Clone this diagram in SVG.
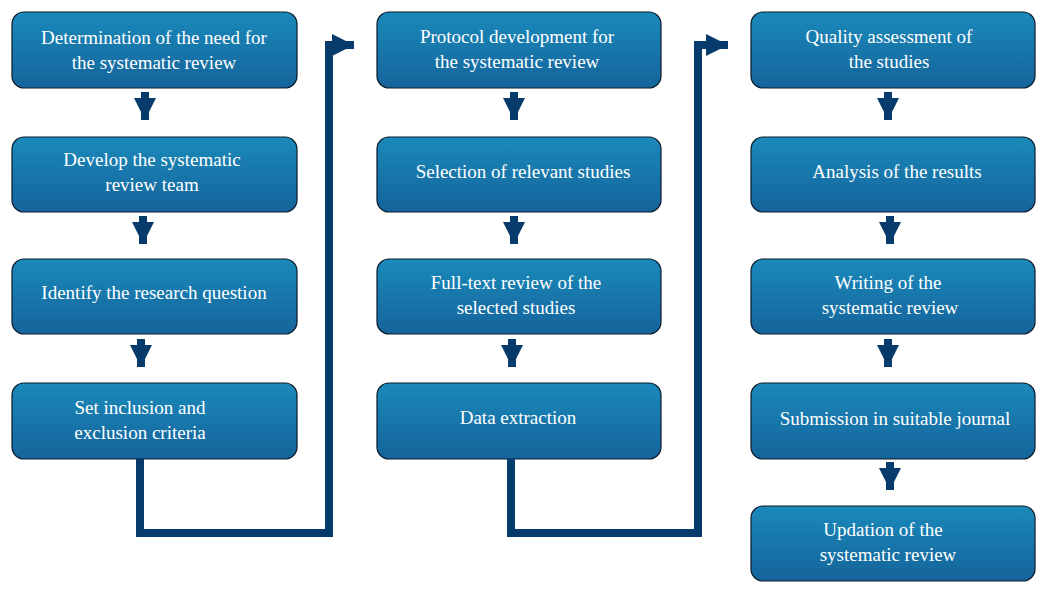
<svg xmlns="http://www.w3.org/2000/svg" width="1050" height="604" viewBox="0 0 1050 604">
<defs>
<linearGradient id="g" x1="0" y1="0" x2="0" y2="1"><stop offset="0" stop-color="#1a89ba"/><stop offset="1" stop-color="#15649b"/></linearGradient>
<marker id="ah" viewBox="0 0 10 10" refX="10" refY="5" markerWidth="2.8" markerHeight="2.8" orient="auto" markerUnits="strokeWidth"><path d="M0,0L10,5L0,10z" fill="#073b6b"/></marker>
</defs>
<style>
rect{fill:url(#g);stroke:#0a1a2a;stroke-width:1.2}
text{font-family:"Liberation Serif",serif;font-size:19px;fill:#fff;text-anchor:middle}
.c path{fill:none;stroke:#073b6b;stroke-width:8}
</style>
<g id="n1"><rect x="12" y="12" width="285" height="76" rx="12"/><text x="154" y="44">Determination of the need for</text><text x="154" y="69">the systematic review</text></g>
<g id="n2"><rect x="12" y="137" width="285" height="75" rx="12"/><text x="152" y="166">Develop the systematic</text><text x="152" y="191">review team</text></g>
<g id="n3"><rect x="12" y="259" width="285" height="75" rx="12"/><text x="154" y="299">Identify the research question</text></g>
<g id="n4"><rect x="12" y="383" width="285" height="76" rx="12"/><text x="140" y="414">Set inclusion and</text><text x="140" y="439">exclusion criteria</text></g>
<g id="n5"><rect x="377" y="12" width="284" height="76" rx="12"/><text x="517" y="43">Protocol development for</text><text x="517" y="68">the systematic review</text></g>
<g id="n6"><rect x="377" y="137" width="284" height="75" rx="12"/><text x="523" y="178">Selection of relevant studies</text></g>
<g id="n7"><rect x="377" y="259" width="284" height="75" rx="12"/><text x="516" y="289">Full-text review of the</text><text x="516" y="314">selected studies</text></g>
<g id="n8"><rect x="377" y="383" width="284" height="76" rx="12"/><text x="518" y="424">Data extraction</text></g>
<g id="n9"><rect x="751" y="12" width="284" height="76" rx="12"/><text x="889" y="43">Quality assessment of</text><text x="889" y="68">the studies</text></g>
<g id="n10"><rect x="751" y="137" width="284" height="75" rx="12"/><text x="897" y="178">Analysis of the results</text></g>
<g id="n11"><rect x="751" y="259" width="284" height="75" rx="12"/><text x="888" y="289">Writing of the</text><text x="890" y="314">systematic review</text></g>
<g id="n12"><rect x="751" y="383" width="284" height="76" rx="12"/><text x="895" y="425">Submission in suitable journal</text></g>
<g id="n13"><rect x="751" y="506" width="284" height="75" rx="12"/><text x="883" y="536">Updation of the</text><text x="888" y="561">systematic review</text></g>
<g class="c" id="connectors">
<path d="M145,92V120" marker-end="url(#ah)"/>
<path d="M143,216V244" marker-end="url(#ah)"/>
<path d="M141,339V367" marker-end="url(#ah)"/>
<path d="M514,92V120" marker-end="url(#ah)"/>
<path d="M514,216V244" marker-end="url(#ah)"/>
<path d="M512,339V367" marker-end="url(#ah)"/>
<path d="M888,92V120" marker-end="url(#ah)"/>
<path d="M890,216V244" marker-end="url(#ah)"/>
<path d="M888,339V367" marker-end="url(#ah)"/>
<path d="M890,462V490" marker-end="url(#ah)"/>
<path d="M140,459V533H329V45H354" marker-end="url(#ah)" stroke-linejoin="miter"/>
<path d="M511,459V533H698V45H728" marker-end="url(#ah)" stroke-linejoin="miter"/>
</g>
</svg>
